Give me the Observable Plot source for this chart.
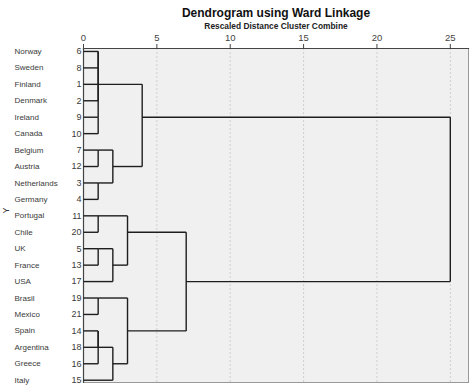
<!DOCTYPE html>
<html><head><meta charset="utf-8">
<script src="https://cdn.jsdelivr.net/npm/d3@7"></script>
<script src="https://cdn.jsdelivr.net/npm/@observablehq/plot@0.6"></script>
<style>
body{margin:0;background:#fff;}
svg{display:block;}
</style></head>
<body>
<div id="chart"></div>
<script>
const names = ["Norway","Sweden","Finland","Denmark","Ireland","Canada","Belgium","Austria","Netherlands","Germany","Portugal","Chile","UK","France","USA","Brasil","Mexico","Spain","Argentina","Greece","Italy"];
const caseNums = [6,8,1,2,9,10,7,12,3,4,11,20,5,13,17,19,21,14,18,16,15];
// merges: node ids 0-20 are leaves (in display order), 21+ are merges in order
const mergeLeft   = [0, 2, 4, 21, 24, 6, 8, 26, 25, 10, 12, 31, 30, 15, 17, 35, 36, 34, 33, 29];
const mergeRight  = [1, 3, 5, 22, 23, 7, 9, 27, 28, 11, 13, 14, 32, 16, 18, 19, 20, 37, 38, 39];
const mergeHeight = [1, 1, 1, 1, 1, 1, 1, 2, 4, 1, 1, 2, 3, 1, 1, 1, 2, 3, 7, 25];
const xTicks = [0, 5, 10, 15, 20, 25];
const title = "Dendrogram using Ward Linkage";
const subtitle = "Rescaled Distance Cluster Combine";

const nodeRow = names.map((d, i) => i);
const nodeH = names.map(() => 0);
const segs = [];
mergeLeft.forEach((a, k) => {
  const b = mergeRight[k], h = mergeHeight[k];
  segs.push({x1: nodeH[a], x2: h, y1: nodeRow[a], y2: nodeRow[a]});
  segs.push({x1: nodeH[b], x2: h, y1: nodeRow[b], y2: nodeRow[b]});
  segs.push({x1: h, x2: h, y1: nodeRow[a], y2: nodeRow[b]});
  nodeRow.push(Math.floor((nodeRow[a] + nodeRow[b]) / 2));
  nodeH.push(h);
});
const leaves = names.map((n, i) => ({name: n, num: caseNums[i], row: i}));
const font = "Liberation Sans, Arial, sans-serif";

const chart = Plot.plot({
  width: 474, height: 387,
  marginTop: 48, marginBottom: 5, marginLeft: 83, marginRight: 6,
  style: {fontFamily: font, background: "#fff"},
  x: {domain: [0, 26.24], axis: null},
  y: {domain: [-0.18, 20.14], reverse: true, axis: null},
  marks: [
    Plot.frame({fill: "#f0f0f0", stroke: "#999", strokeWidth: 1}),
    Plot.gridX(xTicks.filter(d => d > 0), {stroke: "#cfcfcf", strokeOpacity: 1, strokeDasharray: "2,2"}),
    Plot.axisX(xTicks, {anchor: "top", tickSize: 5, tickPadding: 3, fontSize: 9.5, fill: "#444", stroke: "#444", label: null}),
    Plot.frame({anchor: "top", stroke: "#444", strokeWidth: 1.2}),
    Plot.frame({anchor: "left", stroke: "#444", strokeWidth: 1.2}),
    Plot.link(segs, {x1: "x1", x2: "x2", y1: "y1", y2: "y2", stroke: "#1e1e1e", strokeWidth: 1.4}),
    Plot.text(leaves, {y: "row", text: "name", frameAnchor: "left", dx: -69, textAnchor: "start", fontSize: 8, fill: "#3a3a3a"}),
    Plot.text(leaves, {y: "row", text: d => String(d.num), frameAnchor: "left", dx: -2, textAnchor: "end", fontSize: 9, fill: "#3a3a3a"}),
    Plot.text([title], {frameAnchor: "top", dy: -35, lineAnchor: "middle", fontSize: 12, fontWeight: "bold", fill: "#111"}),
    Plot.text([subtitle], {frameAnchor: "top", dy: -22, lineAnchor: "middle", fontSize: 8.4, fontWeight: "bold", fill: "#222"}),
    Plot.text(["Y"], {frameAnchor: "left", dx: -77, dy: -2, rotate: -90, fontSize: 9, fill: "#333"})
  ]
});
document.getElementById("chart").appendChild(chart);
</script>
</body></html>
